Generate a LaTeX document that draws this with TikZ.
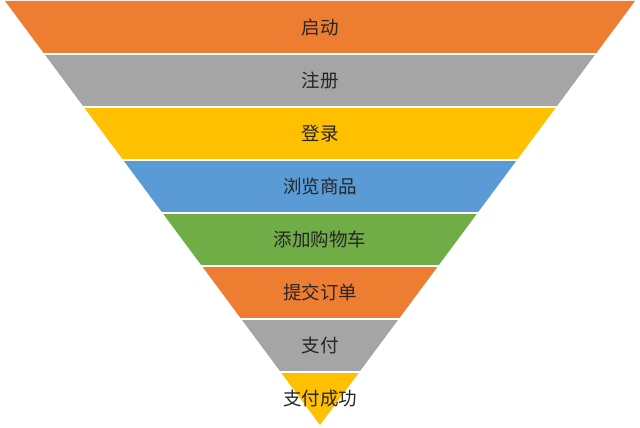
\documentclass[tikz,border=0pt]{standalone}
\usepackage{fontspec}
\newfontfamily\cjk{Noto Sans CJK SC}
\definecolor{forange}{HTML}{ED7D31}
\definecolor{fgray}{HTML}{A5A5A5}
\definecolor{fgold}{HTML}{FFC000}
\definecolor{fblue}{HTML}{5B9BD5}
\definecolor{fgreen}{HTML}{70AD47}
\definecolor{ftext}{HTML}{262626}
\begin{document}
\begin{tikzpicture}[x=1pt,y=-1pt,
  txt/.style={font=\cjk\fontsize{18.5}{22}\selectfont, text=ftext, inner sep=0pt},
  sep/.style={draw=white, line width=1.8pt}]
\useasboundingbox (0,0) rectangle (640,428);
\foreach \c [count=\i from 0] in {forange,fgray,fgold,fblue,fgreen,forange,fgray,fgold} {
  \pgfmathsetmacro\ya{1+53*\i}
  \pgfmathsetmacro\yb{1+53*(\i+1)}
  \pgfmathsetmacro\wa{0.742925*(425-\ya)}
  \pgfmathsetmacro\wb{0.742925*(425-\yb)}
  \fill[\c] (320-\wa,\ya) -- (320+\wa,\ya) -- (320+\wb,\yb) -- (320-\wb,\yb) -- cycle;
}
\foreach \k in {1,...,7} {
  \pgfmathsetmacro\ys{1+53*\k}
  \draw[sep] (0,\ys) -- (640,\ys);
}
\node[txt] (n1) at (320,27.5) {启动};
\node[txt] (n2) at (320,80.5) {注册};
\node[txt] (n3) at (320,133.5) {登录};
\node[txt] (n4) at (320,186.5) {浏览商品};
\node[txt] (n5) at (320,239.5) {添加购物车};
\node[txt] (n6) at (320,292.5) {提交订单};
\node[txt] (n7) at (320,345.5) {支付};
\node[txt] (n8) at (320,398.5) {支付成功};
\end{tikzpicture}
\end{document}
